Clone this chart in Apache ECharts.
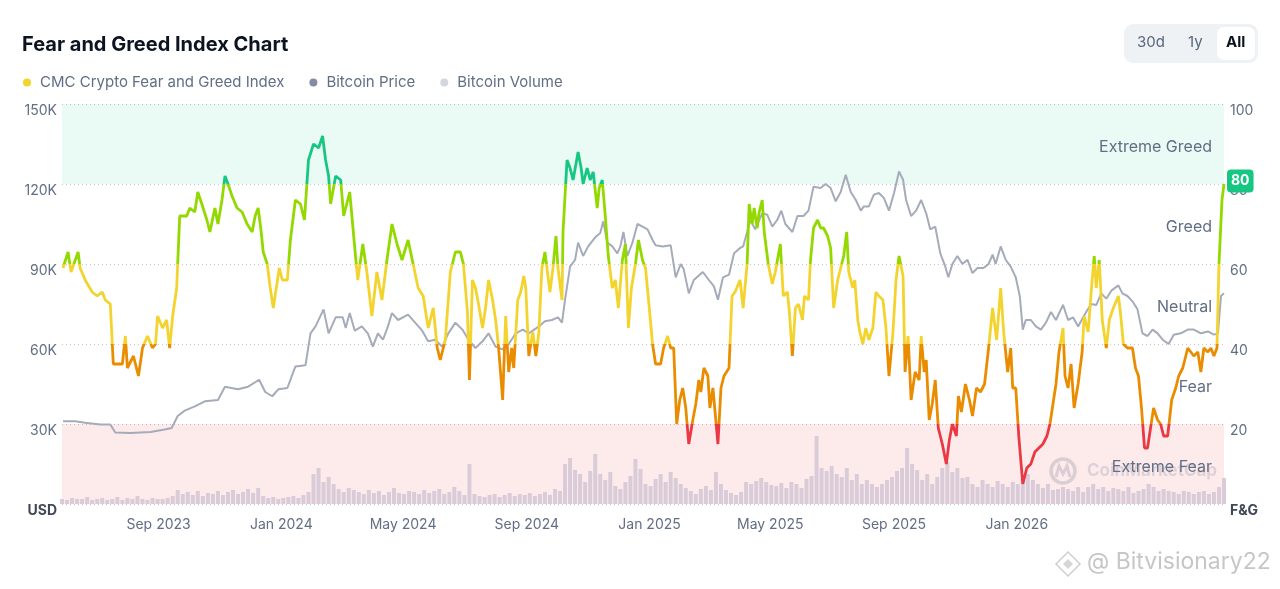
<!DOCTYPE html>
<html>
<head>
<meta charset="utf-8">
<title>Fear and Greed Index Chart</title>
<script src="https://cdn.jsdelivr.net/npm/echarts@6/dist/echarts.min.js"></script>
<style>
  html, body { margin: 0; padding: 0; background: #fff; }
  #chart { width: 1280px; height: 589px; }
</style>
</head>
<body>
<div id="chart"></div>
<script>
// x轴按天计: 起点 2023-05-28
var START = Date.UTC(2023, 4, 28);
var DAY = 86400000;
var AXIS_DAYS = 1155;

// x轴刻度
var tickDates = ['2023-09-01', '2024-01-01', '2024-05-01', '2024-09-01',
                 '2025-01-01', '2025-05-01', '2025-09-01', '2026-01-01'];
var tickLabels = ['Sep 2023', 'Jan 2024', 'May 2024', 'Sep 2024',
                  'Jan 2025', 'May 2025', 'Sep 2025', 'Jan 2026'];

// 恐惧贪婪指数 (天偏移 / 数值)
var fgDays = [
  1, 6, 9, 16, 18, 23, 30, 35, 40, 43,
  48, 51, 60, 63, 65, 71, 76, 80, 85, 90,
  93, 95, 100, 104, 107, 110, 114, 117, 124, 127,
  132, 135, 139, 144, 147, 152, 155, 159, 162, 165,
  169, 174, 179, 184, 189, 192, 195, 198, 200, 204,
  207, 210, 213, 216, 219, 224, 227, 232, 237, 241,
  245, 250, 255, 259, 262, 265, 267, 272, 277, 280,
  284, 286, 291, 294, 299, 303, 308, 313, 318, 323,
  328, 333, 338, 344, 349, 354, 359, 364, 369, 373,
  376, 381, 386, 391, 396, 399, 403, 405, 408, 411,
  414, 418, 421, 424, 428, 431, 434, 438, 441, 444,
  447, 449, 453, 456, 459, 461, 464, 468, 471, 474,
  477, 480, 485, 488, 491, 493, 497, 498, 502, 505,
  508, 513, 516, 518, 522, 525, 528, 532, 534, 537,
  540, 543, 547, 550, 553, 557, 560, 563, 566, 570,
  573, 577, 580, 583, 587, 590, 595, 598, 602, 605,
  608, 611, 614, 617, 620, 623, 627, 630, 633, 635,
  638, 642, 644, 647, 652, 655, 658, 663, 666, 669,
  674, 677, 681, 683, 686, 688, 691, 693, 696, 698,
  702, 706, 709, 714, 717, 721, 723, 726, 729, 732,
  736, 738, 742, 744, 747, 751, 754, 757, 761, 764,
  767, 771, 774, 777, 780, 782, 786, 788, 791, 793,
  796, 799, 802, 806, 809, 812, 816, 819, 822, 826,
  829, 832, 836, 838, 841, 844, 848, 852, 854, 857,
  859, 862, 865, 868, 871, 875, 879, 882, 885, 889,
  891, 894, 898, 902, 905, 909, 913, 917, 921, 925,
  929, 933, 936, 940, 943, 945, 948, 951, 955, 959,
  963, 967, 971, 975, 979, 982, 985, 988, 991, 995,
  997, 1000, 1003, 1006, 1010, 1014, 1016, 1020, 1023, 1026,
  1028, 1031, 1034, 1038, 1041, 1045, 1050, 1052, 1055, 1059,
  1064, 1067, 1070, 1073, 1076, 1079, 1085, 1089, 1092, 1095,
  1099, 1103, 1107, 1110, 1114, 1119, 1122, 1125, 1129, 1132,
  1135, 1139, 1142, 1145, 1148, 1150, 1153, 1155
];
var fgValues = [
  59, 63, 58, 63, 59, 56, 53, 52, 53, 51,
  50, 35, 35, 42, 34, 37, 32, 39, 42, 39,
  40, 47, 44, 46, 39, 47, 54, 72, 72, 74,
  73, 78, 75, 71, 68, 74, 70, 76, 82, 80,
  77, 74, 73, 70, 68, 72, 74, 68, 63, 60,
  54, 49, 54, 59, 56, 56, 66, 76, 75, 71,
  86, 90, 89, 92, 86, 82, 75, 82, 81, 72,
  76, 78, 64, 56, 65, 58, 47, 58, 51, 61,
  70, 65, 61, 66, 60, 54, 52, 44, 49, 39,
  36, 41, 58, 63, 63, 60, 48, 31, 56, 54,
  50, 44, 49, 56, 51, 46, 39, 26, 47, 33,
  39, 34, 51, 53, 57, 54, 37, 43, 37, 43,
  59, 63, 53, 59, 67, 59, 51, 68, 86, 84,
  81, 88, 84, 80, 84, 81, 83, 74, 79, 81,
  72, 62, 54, 56, 49, 61, 65, 44, 54, 60,
  66, 61, 59, 51, 40, 35, 35, 39, 42, 39,
  39, 20, 26, 29, 24, 15, 21, 25, 31, 28,
  34, 32, 24, 29, 15, 29, 32, 34, 52, 53,
  56, 49, 60, 75, 70, 74, 69, 73, 76, 68,
  60, 55, 58, 65, 52, 53, 48, 37, 49, 50,
  46, 52, 51, 61, 69, 71, 69, 69, 67, 64,
  49, 56, 59, 62, 68, 58, 54, 56, 46, 43,
  40, 44, 41, 44, 53, 52, 51, 44, 32, 43,
  56, 62, 57, 33, 42, 26, 33, 31, 42, 33,
  36, 21, 25, 31, 19, 15, 10, 16, 20, 17,
  27, 23, 30, 26, 22, 29, 28, 30, 39, 49,
  41, 54, 43, 33, 39, 29, 29, 17, 5, 9,
  10, 13, 14, 15, 17, 20, 25, 30, 38, 44,
  32, 29, 35, 24, 30, 38, 47, 43, 53, 62,
  54, 61, 46, 39, 46, 49, 52, 48, 40, 39,
  39, 34, 32, 24, 14, 14, 24, 21, 20, 17,
  17, 26, 29, 32, 34, 39, 38, 37, 38, 33,
  39, 38, 39, 37, 39, 60, 76, 80
];

// 比特币价格 (千美元)
var priceDays = [
  1, 13, 23, 38, 48, 53, 68, 88, 102, 109,
  115, 122, 132, 142, 155, 162, 175, 185, 196, 202,
  209, 215, 224, 232, 242, 247, 252, 260, 265, 272,
  279, 282, 286, 291, 298, 304, 309, 314, 319, 324,
  328, 334, 344, 351, 358, 364, 371, 378, 384, 391,
  398, 404, 411, 418, 424, 431, 438, 444, 451, 458,
  464, 474, 480, 487, 493, 497, 500, 505, 510, 513,
  518, 523, 530, 535, 538, 542, 547, 552, 555, 558,
  562, 567, 572, 577, 582, 587, 590, 597, 605, 610,
  615, 618, 623, 628, 637, 643, 648, 652, 657, 663,
  668, 674, 677, 681, 684, 689, 696, 701, 706, 711,
  715, 719, 726, 731, 737, 742, 747, 754, 759, 764,
  769, 774, 779, 784, 789, 794, 797, 802, 807, 812,
  817, 822, 827, 832, 836, 839, 844, 849, 854, 859,
  863, 868, 873, 878, 881, 885, 890, 895, 900, 905,
  910, 916, 921, 925, 928, 933, 938, 943, 948, 952,
  955, 958, 963, 968, 973, 978, 983, 988, 995, 1000,
  1005, 1010, 1015, 1018, 1023, 1028, 1033, 1038, 1043, 1050,
  1054, 1059, 1064, 1069, 1074, 1079, 1084, 1089, 1094, 1100,
  1105, 1112, 1119, 1125, 1132, 1139, 1145, 1149, 1152, 1155
];
var priceK = [
  31, 31, 30.5, 29.8, 29.8, 26.8, 26.6, 27, 27.9, 28.5,
  33, 35, 36.6, 38.5, 39, 44, 43, 44, 46.6, 42,
  40.4, 43, 43.5, 51.6, 52, 64, 66.6, 73, 64, 70,
  70, 66, 71.6, 65, 66.6, 64, 59, 64, 61.6, 66.6,
  71.6, 69, 71, 68, 65, 61, 61.6, 59, 64, 68,
  65.4, 61.6, 58.5, 61, 64, 59, 58, 60, 64, 65.4,
  64, 66.6, 68.5, 69, 70, 68, 76.6, 89, 91.6, 98,
  93, 96.6, 100, 101.6, 106, 98, 96.6, 94, 96.6, 102,
  93, 98, 105, 104, 103, 99, 97, 96.6, 97, 85,
  90, 88, 79, 84, 87, 84, 81.6, 76.6, 85, 86,
  94, 96, 96.6, 102, 106.6, 103, 109, 108.5, 104, 106.6,
  110, 105, 102, 108, 108, 110, 119, 118.5, 120, 118.5,
  113.5, 117, 123.5, 117, 114, 110, 111.6, 111.6, 116, 116.6,
  114.7, 110, 116.6, 124.7, 121.6, 114, 108, 110, 114, 109,
  103, 104, 94, 89, 85, 90, 93, 90, 91.6, 86.6,
  88.5, 88.5, 90, 93.5, 90, 96.6, 91.6, 89, 85, 78,
  65.4, 69, 69, 66.6, 65.4, 68, 72, 69, 74.7, 69,
  70, 66.6, 70, 72, 75, 74.6, 79, 77, 80, 82,
  79, 78, 76, 73, 64, 63, 65.4, 64, 61.6, 60,
  63.5, 64, 65.4, 65.4, 64, 64.7, 63.5, 64, 78, 79
];

// 比特币成交量 (每5天一根, 十亿美元)
var volumeStep = 5;
var volumeB = [
  5, 4, 6, 5, 5, 7, 4, 5, 6, 4,
  5, 7, 4, 6, 5, 8, 5, 4, 6, 5,
  5, 6, 8, 14, 10, 12, 9, 13, 8, 11,
  10, 13, 9, 12, 14, 10, 12, 15, 11, 16,
  8, 6, 7, 5, 6, 7, 8, 6, 9, 12,
  30, 36, 22, 27, 20, 15, 12, 16, 14, 12,
  10, 14, 11, 13, 9, 12, 16, 11, 10, 13,
  12, 10, 14, 11, 13, 15, 10, 12, 17, 13,
  9, 40, 10, 8, 7, 9, 10, 7, 9, 11,
  8, 10, 9, 11, 8, 10, 12, 9, 15, 13,
  40, 46, 34, 30, 22, 33, 50, 30, 24, 32,
  18, 15, 22, 28, 45, 35, 20, 18, 25, 30,
  22, 32, 26, 20, 16, 13, 10, 15, 18, 14,
  32, 20, 14, 11, 9, 12, 22, 20, 23, 26,
  22, 19, 18, 21, 16, 22, 20, 16, 25, 28,
  68, 36, 33, 38, 30, 27, 36, 24, 30, 20,
  24, 20, 17, 20, 24, 27, 33, 36, 56, 40,
  34, 24, 30, 20, 27, 36, 42, 32, 36, 26,
  27, 20, 17, 24, 20, 17, 23, 20, 17, 22,
  20, 27, 30, 24, 20, 16, 20, 14, 15, 17,
  15, 13, 17, 12, 17, 20, 15, 17, 13, 16,
  15, 13, 17, 11, 13, 15, 20, 17, 13, 15,
  13, 12, 10, 13, 12, 10, 12, 13, 10, 12,
  17, 26
];

// 情绪区间
var zoneNames = ['Extreme Fear', 'Fear', 'Neutral', 'Greed', 'Extreme Greed'];
var zoneEdges = [0, 20, 40, 60, 80, 100];
var zoneFill = ['rgba(234,57,67,0.10)', 'rgba(0,0,0,0)', 'rgba(0,0,0,0)',
                'rgba(0,0,0,0)', 'rgba(22,199,132,0.09)'];
var zoneLine = ['#ea3943', '#ea8c00', '#f3d42f', '#93d900', '#16c784'];

var FONT = 'Inter, "Noto Sans", sans-serif';
// 刻度日期 -> 天偏移
var tickDays = tickDates.map(function (s) {
  return Math.round((Date.parse(s + 'T00:00:00Z') - START) / DAY);
});

var fgData = fgDays.map(function (d, i) { return [d, fgValues[i]]; });
var priceData = priceDays.map(function (d, i) { return [d, priceK[i]]; });
var volData = volumeB.map(function (v, i) { return [i * volumeStep, v]; });

var chart = echarts.init(document.getElementById('chart'));

var option = {
  animation: false,
  textStyle: { fontFamily: FONT },
  title: {
    text: 'Fear and Greed Index Chart',
    left: 22, top: 35, padding: 0,
    textStyle: { fontSize: 20, fontWeight: 700, color: '#0d1421', fontFamily: FONT }
  },
  legend: {
    left: 23, top: 75, padding: 0,
    icon: 'circle', itemWidth: 8, itemHeight: 8, itemGap: 25,
    selectedMode: false,
    textStyle: { fontSize: 15, color: '#616e85', padding: [0, 0, 0, 4] },
    data: [
      { name: 'CMC Crypto Fear and Greed Index', itemStyle: { color: '#f3d42f', borderWidth: 0 } },
      { name: 'Bitcoin Price', itemStyle: { color: '#858ca2', borderWidth: 0 } },
      { name: 'Bitcoin Volume', itemStyle: { color: '#d3d6de', borderWidth: 0 } }
    ]
  },
  grid: { left: 62, right: 56, top: 104, bottom: 85 },
  xAxis: {
    type: 'value',
    min: 0, max: AXIS_DAYS,
    axisLine: { show: false },
    axisTick: { show: false },
    splitLine: { show: false },
    axisLabel: {
      customValues: tickDays,
      margin: 14, fontSize: 14, color: '#616e85',
      formatter: function (v) {
        var i = tickDays.indexOf(Math.round(v));
        return i < 0 ? '' : tickLabels[i];
      }
    }
  },
  yAxis: [
    {
      type: 'value', position: 'left', min: 0, max: 150, interval: 30,
      axisLine: { show: false }, axisTick: { show: false }, splitLine: { show: false },
      axisLabel: {
        margin: 5, fontSize: 14, color: '#616e85', verticalAlign: 'top',
        formatter: function (v) { return v === 0 ? '{b|USD}' : v + 'K'; },
        rich: { b: { fontWeight: 700, fontSize: 14, color: '#404756' } }
      }
    },
    {
      type: 'value', position: 'right', min: 0, max: 100, interval: 20,
      axisLine: { show: false }, axisTick: { show: false },
      splitLine: { show: true, lineStyle: { type: [1, 3], color: '#c3c9d4', width: 1 } },
      axisLabel: {
        margin: 6, fontSize: 14, color: '#616e85', verticalAlign: 'top',
        formatter: function (v) { return v === 0 ? '{b|F&G}' : String(v); },
        rich: { b: { fontWeight: 700, fontSize: 14, color: '#404756' } }
      }
    },
    { type: 'value', min: 0, max: 400, show: false }
  ],
  visualMap: {
    show: false, type: 'piecewise', seriesIndex: 3, dimension: 1,
    pieces: [
      { lt: 20, color: zoneLine[0] },
      { gte: 20, lt: 40, color: zoneLine[1] },
      { gte: 40, lt: 60, color: zoneLine[2] },
      { gte: 60, lt: 80, color: zoneLine[3] },
      { gte: 80, color: zoneLine[4] }
    ]
  },
  series: [
    {
      name: 'zones', type: 'line', yAxisIndex: 1, data: [], silent: true,
      markArea: {
        silent: true,
        data: zoneNames.map(function (n, i) {
          return [
            { name: n, yAxis: zoneEdges[i], itemStyle: { color: zoneFill[i] },
              label: { show: true, position: 'insideRight', distance: 12, offset: [0, 3],
                       color: '#616e85', fontSize: 16, fontFamily: FONT } },
            { yAxis: zoneEdges[i + 1] }
          ];
        })
      }
    },
    {
      name: 'Bitcoin Volume', type: 'bar', yAxisIndex: 2, data: volData,
      barWidth: 4, itemStyle: { color: '#d9ccd8' }, silent: true
    },
    {
      name: 'Bitcoin Price', type: 'line', yAxisIndex: 0, data: priceData,
      showSymbol: false, silent: true,
      lineStyle: { color: '#a6abb9', width: 2 }, itemStyle: { color: '#a6abb9' }
    },
    {
      name: 'CMC Crypto Fear and Greed Index', type: 'line', yAxisIndex: 1, data: fgData,
      showSymbol: false, silent: true, z: 4,
      lineStyle: { width: 2.8 },
      endLabel: {
        show: true, distance: 3,
        formatter: function (p) { return p.value[1]; },
        backgroundColor: '#16c784', color: '#fff', fontWeight: 700, fontSize: 14,
        padding: [5, 4, 4, 4], borderRadius: 4, offset: [0, -3]
      }
    }
  ],
  graphic: [
    // 时间范围按钮
    { type: 'rect', left: 1124, top: 24, shape: { width: 134, height: 39, r: 9 },
      style: { fill: '#eff2f5' } },
    { type: 'rect', left: 1217, top: 27, shape: { width: 38, height: 33, r: 7 },
      style: { fill: '#ffffff' } },
    { type: 'text', left: 1137, top: 35, style: { text: '30d', fontSize: 15, fill: '#58667e', fontFamily: FONT } },
    { type: 'text', left: 1188, top: 35, style: { text: '1y', fontSize: 15, fill: '#58667e', fontFamily: FONT } },
    { type: 'text', left: 1226, top: 35, style: { text: 'All', fontSize: 15, fontWeight: 700, fill: '#0d1421', fontFamily: FONT } },
    // CoinMarketCap 水印
    { type: 'circle', shape: { cx: 1063, cy: 471, r: 12 }, z: 5,
      style: { fill: 'none', stroke: 'rgba(110,120,140,0.25)', lineWidth: 3.5 } },
    { type: 'polyline', z: 5,
      shape: { points: [[1056, 477], [1059, 466], [1063, 474], [1067, 466], [1070, 477]] },
      style: { fill: 'none', stroke: 'rgba(110,120,140,0.25)', lineWidth: 3 } },
    { type: 'text', left: 1087, top: 462, z: 5,
      style: { text: 'CoinMarketCap', fontSize: 17, fontWeight: 700,
               fill: 'rgba(110,120,140,0.22)', fontFamily: FONT } },
    // 作者水印
    { type: 'polygon',
      shape: { points: [[1068, 552], [1080, 564], [1068, 576], [1056, 564]] },
      style: { fill: 'none', stroke: '#cfcfcf', lineWidth: 1.5 } },
    { type: 'polygon',
      shape: { points: [[1068, 559], [1073, 564], [1068, 569], [1063, 564]] },
      style: { fill: '#d6d6d6' } },
    { type: 'text', left: 1087, top: 551,
      style: { text: '@ Bitvisionary22', fontSize: 23, fill: '#c6c6c6', fontFamily: FONT } }
  ]
};

chart.setOption(option);
</script>
</body>
</html>
